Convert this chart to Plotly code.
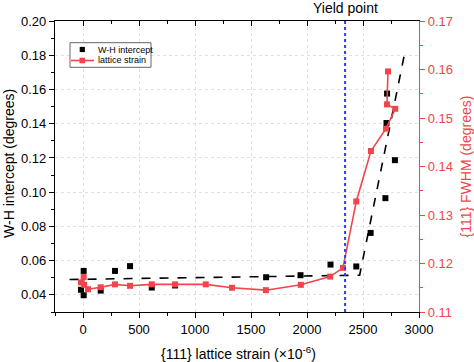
import plotly.graph_objects as go

# W-H intercept (left axis)
wh_x = [-18, 6, 6, 158, 286, 420, 614, 822, 1635, 1942, 2210, 2440, 2568, 2700, 2710, 2715, 2785]
wh_y = [0.0430, 0.0540, 0.0398, 0.0425, 0.0540, 0.0568, 0.0443, 0.0455, 0.0503, 0.0515,
        0.0577, 0.0566, 0.0762, 0.0965, 0.1404, 0.1576, 0.1187]

# lattice strain / {111} FWHM (right axis)
ls_x = [-18, 6, 10, 45, 158, 286, 420, 614, 822, 1096, 1330, 1633, 1945, 2207, 2321,
        2440, 2571, 2705, 2788, 2714, 2723]
ls_y = [0.1161, 0.1172, 0.1156, 0.1147, 0.1151, 0.1157, 0.1154, 0.1157, 0.1157, 0.1157,
        0.1150, 0.1145, 0.1156, 0.1173, 0.1191, 0.1328, 0.1432, 0.1478, 0.1519, 0.1528, 0.1596]

# bilinear fit (dashed)
fit_x = [-120, 2470, 2870]
fit_y = [0.0490, 0.0515, 0.1805]

yield_x = 2340

x_ticks = [0, 500, 1000, 1500, 2000, 2500, 3000]
yl_ticks = [0.04, 0.06, 0.08, 0.10, 0.12, 0.14, 0.16, 0.18, 0.20]
yr_ticks = [0.11, 0.12, 0.13, 0.14, 0.15, 0.16, 0.17]

legend_labels = ["W-H intercept", "lattice strain"]

RED = "#f2454b"
FONT = "Arial, Liberation Sans, sans-serif"

W, H = 474, 362
ML, MR, MT, MB = 55, 55, 21, 50
PW, PH = W - ML - MR, H - MT - MB


def px(x):
    return (x - ML) / PW


def py(y):
    return (H - MB - y) / PH


fig = go.Figure()

fig.add_trace(go.Scatter(x=fit_x, y=fit_y, mode="lines", line=dict(color="black", width=1.6, dash="dash"),
                         showlegend=False, hoverinfo="skip"))
fig.add_trace(go.Scatter(x=wh_x, y=wh_y, mode="markers", name=legend_labels[0], showlegend=False,
                         marker=dict(symbol="square", size=6, color="black")))
fig.add_trace(go.Scatter(x=ls_x, y=ls_y, mode="lines+markers", name=legend_labels[1], yaxis="y2",
                         showlegend=False, line=dict(color=RED, width=1.6),
                         marker=dict(symbol="square", size=6, color=RED)))
# helper invisible trace for the top mirror axis
fig.add_trace(go.Scatter(x=[0], y=[0.1], xaxis="x2", mode="markers", marker=dict(opacity=0),
                         showlegend=False, hoverinfo="skip"))

fig.add_shape(type="line", x0=yield_x, x1=yield_x, y0=0, y1=1, xref="x", yref="paper",
              line=dict(color="#2b3cff", width=2, dash="dot"))

fig.add_annotation(x=yield_x, y=1, xref="x", yref="paper", yanchor="bottom", yshift=3,
                   text="Yield point", showarrow=False, font=dict(size=14, color="black", family=FONT))

# axis titles
fig.add_annotation(x=0.503, y=0, xref="paper", yref="paper", yanchor="middle", yshift=-41,
                   text="{111} lattice strain (×10<sup>-6</sup>)", showarrow=False,
                   font=dict(size=14, color="black", family=FONT))
fig.add_annotation(x=0, y=0.509, xref="paper", yref="paper", xanchor="center", yanchor="middle", xshift=-46,
                   text="W-H intercept (degrees)", textangle=-90, showarrow=False,
                   font=dict(size=14, color="black", family=FONT))
fig.add_annotation(x=1, y=0.50, xref="paper", yref="paper", xanchor="center", yanchor="middle", xshift=46,
                   text="{111} FWHM (degrees)", textangle=-90, showarrow=False,
                   font=dict(size=14, color=RED, family=FONT))

# custom legend
fig.add_shape(type="rect", xref="paper", yref="paper", x0=px(70), x1=px(151), y0=py(67.3), y1=py(42.7),
              line=dict(color="#666666", width=1), fillcolor="white", layer="above")
fig.add_shape(type="rect", xref="paper", yref="paper", xsizemode="pixel", ysizemode="pixel",
              xanchor=px(82.3), yanchor=py(49.5), x0=-2.6, x1=2.6, y0=-2.6, y1=2.6,
              line=dict(width=0), fillcolor="black", layer="above")
fig.add_shape(type="line", xref="paper", yref="paper", x0=px(71), x1=px(94), y0=py(60.5), y1=py(60.5),
              line=dict(color=RED, width=1.6), layer="above")
fig.add_shape(type="rect", xref="paper", yref="paper", xsizemode="pixel", ysizemode="pixel",
              xanchor=px(82.3), yanchor=py(60.5), x0=-2.8, x1=2.8, y0=-2.8, y1=2.8,
              line=dict(width=0), fillcolor=RED, layer="above")
fig.add_annotation(x=px(95.5), y=py(49.5), xref="paper", yref="paper", xanchor="left", yanchor="middle",
                   text=legend_labels[0], showarrow=False, font=dict(size=9, color="black", family=FONT))
fig.add_annotation(x=px(95.5), y=py(60.5), xref="paper", yref="paper", xanchor="left", yanchor="middle",
                   text=legend_labels[1], showarrow=False, font=dict(size=9, color="black", family=FONT))

grid = dict(showgrid=True, gridcolor="#e0e0e0", griddash="dot", gridwidth=1)

fig.update_layout(
    width=W, height=H,
    margin=dict(l=ML, r=MR, t=MT, b=MB),
    paper_bgcolor="white", plot_bgcolor="white",
    font=dict(family=FONT, size=13, color="black"),
    showlegend=False,
    xaxis=dict(range=[-250, 3000], tickvals=x_ticks,
               ticks="outside", ticklen=5, tickwidth=1, tickcolor="black",
               showline=True, linecolor="black", linewidth=1.2, zeroline=False,
               minor=dict(dtick=250, tick0=0, ticks="outside", ticklen=3, tickcolor="black", showgrid=False),
               **grid),
    xaxis2=dict(range=[-250, 3000], overlaying="x", side="top", tickvals=x_ticks,
                ticks="inside", ticklen=5, tickcolor="black", showticklabels=False,
                showline=True, linecolor="black", linewidth=1.2, showgrid=False, zeroline=False,
                minor=dict(dtick=250, tick0=0, ticks="inside", ticklen=3, tickcolor="black")),
    yaxis=dict(range=[0.03, 0.20], tickvals=yl_ticks,
               tickformat=".2f", ticks="outside", ticklen=5, tickcolor="black",
               showline=True, linecolor="black", linewidth=1.2, zeroline=False,
               minor=dict(dtick=0.01, tick0=0.03, ticks="outside", ticklen=3, tickcolor="black", showgrid=False),
               **grid),
    yaxis2=dict(range=[0.11, 0.17], overlaying="y", side="right",
                tickvals=yr_ticks, tickformat=".2f",
                ticks="outside", ticklen=5, tickcolor=RED, tickfont=dict(color=RED),
                showline=True, linecolor=RED, linewidth=1.2, showgrid=False, zeroline=False,
                minor=dict(dtick=0.005, tick0=0.11, ticks="outside", ticklen=3, tickcolor=RED)),
)

fig.write_html("out.html", config={"displayModeBar": False},
               post_script="document.body.style.margin='0';")
